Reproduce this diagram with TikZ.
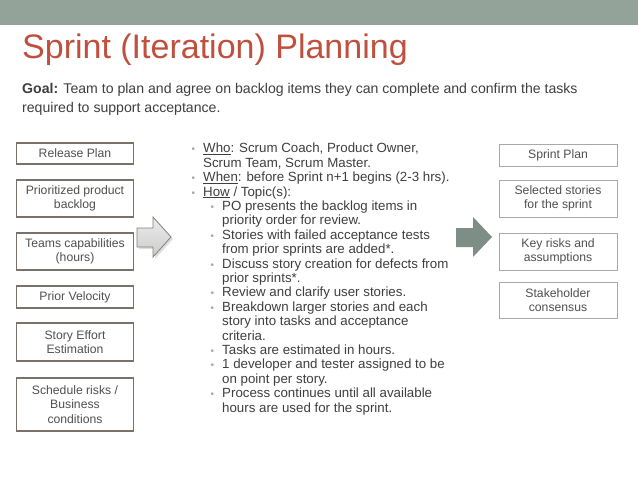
\documentclass[tikz,border=0pt]{standalone}
\usepackage{fontspec}
\setmainfont{Liberation Sans}
\usetikzlibrary{shadings}
\definecolor{topbar}{HTML}{93A399}
\definecolor{titlered}{HTML}{C0503E}
\definecolor{bodytext}{HTML}{3F3F3F}
\definecolor{boxtext}{HTML}{505050}
\definecolor{lborder}{HTML}{7A716B}
\definecolor{rborder}{HTML}{A8A8A8}
\definecolor{bulletgray}{HTML}{A8A8A8}
\definecolor{greenarrow}{HTML}{7C8E85}
\tikzset{
  inbox/.style={draw=lborder, line width=1.4pt, fill=white, minimum width=117pt, align=center, text=boxtext, font=\fontsize{12.2}{14.5}\selectfont, inner sep=0pt},
  outbox/.style={draw=rborder, line width=1pt, fill=white, minimum width=118pt, align=center, text=boxtext, font=\fontsize{12.2}{14.5}\selectfont, inner sep=0pt},
}
\newcommand{\bul}{\llap{{\color{bulletgray}\fontsize{10}{10}\selectfont •}\hspace{8pt}}}
\newcommand{\sub}{\hspace*{19pt}}
\begin{document}
\begin{tikzpicture}[x=1pt,y=-1pt]
\useasboundingbox (0,0) rectangle (638,479);
\fill[white] (0,0) rectangle (638,479);
\fill[topbar] (0,0) rectangle (638,25);
\node[anchor=base west, inner sep=0pt, text=titlered, font=\fontsize{34}{40}\selectfont] (title) at (22,58) {Sprint (Iteration) Planning};
\node[anchor=base west, inner sep=0pt, text=bodytext, align=left, font=\fontsize{14.1}{19}\selectfont] (goal) at (22,112) {\textbf{Goal:} Team to plan and agree on backlog items they can complete and confirm the tasks\\required to support acceptance.};
% left boxes
\node[inbox, minimum height=21pt] (rp) at (75,153.5) {Release Plan};
\node[inbox, minimum height=37pt] (pb) at (75,198.5) {Prioritized product\\backlog};
\node[inbox, minimum height=37pt] (tc) at (75,251.5) {Teams capabilities\\(hours)};
\node[inbox, minimum height=22pt] (pv) at (75,297) {Prior Velocity};
\node[inbox, minimum height=38pt] (se) at (75,342) {Story Effort\\Estimation};
\node[inbox, minimum height=53pt] (sr) at (75,404.5) {Schedule risks /\\Business\\conditions};
% right boxes
\node[outbox, minimum height=22pt] (sp) at (558,155) {Sprint Plan};
\node[outbox, minimum height=37pt] (ss) at (558,198.5) {Selected stories\\for the sprint};
\node[outbox, minimum height=37pt] (kr) at (558,251.5) {Key risks and\\assumptions};
\node[outbox, minimum height=36pt] (sc) at (558,300) {Stakeholder\\consensus};
% arrows
\fill[black!25, opacity=0.5] (139,230)--(155,230)--(155,219)--(173,239)--(155,259)--(155,249)--(139,249)--cycle;
\shade[top color=gray!15, bottom color=gray!40, draw=gray!90!brown, line width=0.8pt] (137,228)--(153,228)--(153,217)--(171,237)--(153,257)--(153,247)--(137,247)--cycle;
\fill[greenarrow] (456,228)--(473,228)--(473,217)--(492,237)--(473,257)--(473,247)--(456,247)--cycle;
% body text
\node[anchor=base west, inner sep=0pt, text=bodytext, align=left, font=\fontsize{13.3}{14.4}\selectfont] (body) at (203,412) {%
\bul\underline{Who}: Scrum Coach, Product Owner,\\
Scrum Team, Scrum Master.\\
\bul\underline{When}: before Sprint n+1 begins (2-3 hrs).\\
\bul\underline{How} / Topic(s):\\
\sub\bul PO presents the backlog items in\\
\sub priority order for review.\\
\sub\bul Stories with failed acceptance tests\\
\sub from prior sprints are added*.\\
\sub\bul Discuss story creation for defects from\\
\sub prior sprints*.\\
\sub\bul Review and clarify user stories.\\
\sub\bul Breakdown larger stories and each\\
\sub story into tasks and acceptance\\
\sub criteria.\\
\sub\bul Tasks are estimated in hours.\\
\sub\bul 1 developer and tester assigned to be\\
\sub on point per story.\\
\sub\bul Process continues until all available\\
\sub hours are used for the sprint.};
\end{tikzpicture}
\end{document}
